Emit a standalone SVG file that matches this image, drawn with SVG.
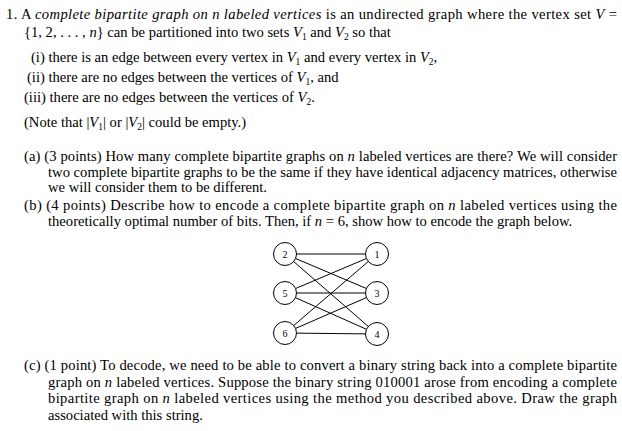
<svg xmlns="http://www.w3.org/2000/svg" width="622" height="431" viewBox="0 0 622 431">
<style>
text{font-family:"Liberation Serif","DejaVu Serif",serif;font-size:14.6px;fill:#000}
.i{font-style:italic}
.s{font-size:9.5px}
.n circle{fill:#fff;stroke:#000;stroke-width:1}
.n text{font-size:10px;text-anchor:middle}
#edges line{stroke:#000;stroke-width:1}
</style>
<rect width="622" height="431" fill="#fff"/>
<text x="6" y="19" textLength="611" lengthAdjust="spacing">1. A <tspan class="i">complete bipartite graph on n labeled vertices</tspan> is an undirected graph where the vertex set <tspan class="i">V</tspan> =</text>
<text x="24" y="37">{1, 2, . . . , <tspan class="i">n</tspan>} can be partitioned into two sets <tspan class="i">V</tspan><tspan class="s" dy="3">1</tspan><tspan dy="-3"> and </tspan><tspan class="i">V</tspan><tspan class="s" dy="3">2</tspan><tspan dy="-3"> so that</tspan></text>
<text x="31" y="62">(i) there is an edge between every vertex in <tspan class="i">V</tspan><tspan class="s" dy="3">1</tspan><tspan dy="-3"> and every vertex in </tspan><tspan class="i">V</tspan><tspan class="s" dy="3">2</tspan><tspan dy="-3">,</tspan></text>
<text x="27" y="82">(ii) there are no edges between the vertices of <tspan class="i">V</tspan><tspan class="s" dy="3">1</tspan><tspan dy="-3">, and</tspan></text>
<text x="24" y="102">(iii) there are no edges between the vertices of <tspan class="i">V</tspan><tspan class="s" dy="3">2</tspan><tspan dy="-3">.</tspan></text>
<text x="24" y="127">(Note that |<tspan class="i">V</tspan><tspan class="s" dy="3">1</tspan><tspan dy="-3">| or |</tspan><tspan class="i">V</tspan><tspan class="s" dy="3">2</tspan><tspan dy="-3">| could be empty.)</tspan></text>
<text x="24" y="161" textLength="593" lengthAdjust="spacing">(a) (3 points) How many complete bipartite graphs on <tspan class="i">n</tspan> labeled vertices are there? We will consider</text>
<text x="48" y="177" textLength="569" lengthAdjust="spacing">two complete bipartite graphs to be the same if they have identical adjacency matrices, otherwise</text>
<text x="48" y="192">we will consider them to be different.</text>
<text x="24" y="210" textLength="593" lengthAdjust="spacing">(b) (4 points) Describe how to encode a complete bipartite graph on <tspan class="i">n</tspan> labeled vertices using the</text>
<text x="48" y="226">theoretically optimal number of bits. Then, if <tspan class="i">n</tspan> = 6, show how to encode the graph below.</text>
<g id="edges">
<line x1="285" y1="254" x2="377" y2="254"/>
<line x1="285" y1="254" x2="377" y2="293"/>
<line x1="285" y1="254" x2="377" y2="334"/>
<line x1="285" y1="293" x2="377" y2="254"/>
<line x1="285" y1="293" x2="377" y2="293"/>
<line x1="285" y1="293" x2="377" y2="334"/>
<line x1="285" y1="333" x2="377" y2="254"/>
<line x1="285" y1="333" x2="377" y2="293"/>
<line x1="285" y1="333" x2="377" y2="334"/>
</g>
<g id="n2" class="n"><circle cx="285" cy="254" r="11.5"/><text x="285" y="258">2</text></g>
<g id="n5" class="n"><circle cx="285" cy="293" r="11.5"/><text x="285" y="297">5</text></g>
<g id="n6" class="n"><circle cx="285" cy="333" r="11.5"/><text x="285" y="337">6</text></g>
<g id="n1" class="n"><circle cx="377" cy="254" r="11.5"/><text x="377" y="258">1</text></g>
<g id="n3" class="n"><circle cx="377" cy="293" r="11.5"/><text x="377" y="297">3</text></g>
<g id="n4" class="n"><circle cx="377" cy="334" r="11.5"/><text x="377" y="338">4</text></g>
<text x="24" y="370" textLength="593" lengthAdjust="spacing">(c) (1 point) To decode, we need to be able to convert a binary string back into a complete bipartite</text>
<text x="48" y="387" textLength="569" lengthAdjust="spacing">graph on <tspan class="i">n</tspan> labeled vertices. Suppose the binary string 010001 arose from encoding a complete</text>
<text x="48" y="403" textLength="569" lengthAdjust="spacing">bipartite graph on <tspan class="i">n</tspan> labeled vertices using the method you described above. Draw the graph</text>
<text x="48" y="420">associated with this string.</text>
</svg>
